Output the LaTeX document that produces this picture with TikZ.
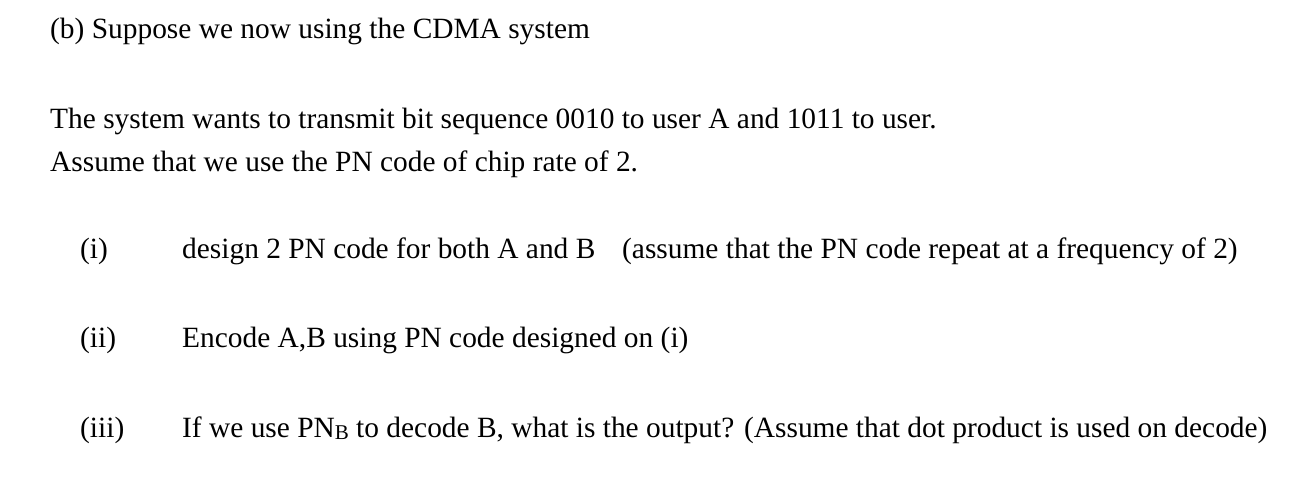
\documentclass[tikz,border=0pt]{standalone}
\usepackage{fontspec}
\setmainfont{Liberation Serif}
\begin{document}
\begin{tikzpicture}[x=1pt,y=-1pt,t/.style={anchor=base west,inner sep=0pt,font=\fontsize{29.4}{32}\selectfont}]
\useasboundingbox (0,0) rectangle (1304,482);
\node[t] (l1) at (50,38) {(b) Suppose we now using the CDMA system};
\node[t] (l2) at (50,128) {The system wants to transmit bit sequence 0010 to user A and 1011 to user.};
\node[t] (l3) at (50,171) {Assume that we use the PN code of chip rate of 2.};
\node[t] (i) at (80,258) {(i)};
\node[t] (it) at (182,258) {design 2 PN code for both A and B};
\node[t] (ia) at (622,258) {(assume that the PN code repeat at a frequency of 2)};
\node[t] (ii) at (80,347) {(ii)};
\node[t] (iit) at (182,347) {Encode A,B using PN code designed on (i)};
\node[t] (iii) at (80,437) {(iii)};
\node[t] (iiit) at (182,437) {If we use PN\raisebox{-2pt}{\fontsize{21}{21}\selectfont B} to decode B, what is the output? (Assume that dot product is used on decode)};
\end{tikzpicture}
\end{document}
